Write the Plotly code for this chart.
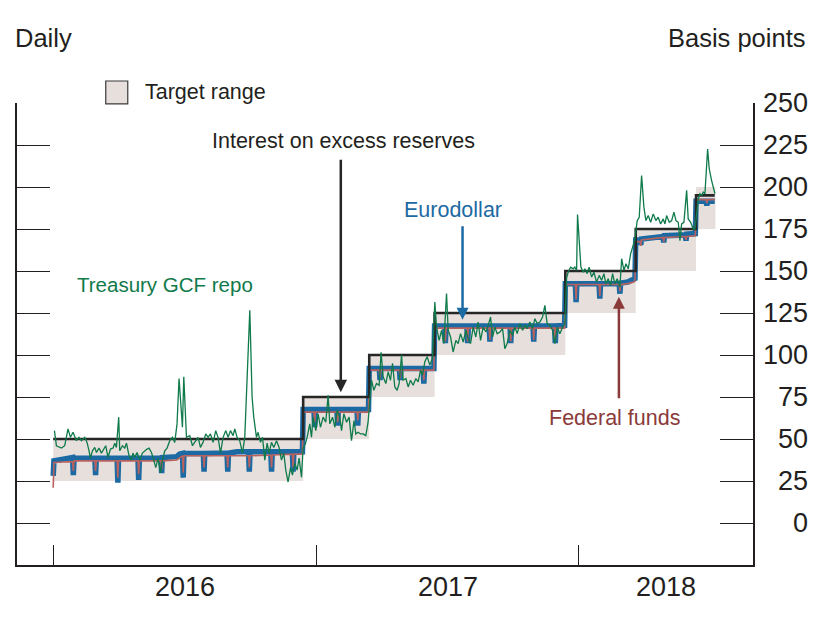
import pandas as pd
import plotly.graph_objects as go

BASE = pd.Timestamp("2016-01-01")

# ---- data (x values are days since 2016-01-01) ----
gcf_day = [1.7, 4.5, 11.4, 16, 20.6, 24, 27.6, 32.3, 35.9, 39.3, 43.9, 47.1, 49.9, 51.8, 54.6, 57.8, 60.2, 63.8, 67.1, 69.4,
           73.1, 76.3, 79.7, 83.3, 85.7, 88, 91.2, 92.6, 96.4, 99.6, 102, 105.6, 108.9, 111.1, 113.5, 116.7, 120.5, 124.2, 127.4, 130.6,
           133.4, 136.8, 140, 142.8, 146, 149.3, 152.1, 155.3, 158.5, 162.3, 166, 169.2, 172.4, 175.2, 179.9, 181.8, 185.5,
           190.1, 193.9, 197.1, 201.7, 205, 208.6, 212.4, 215.6, 218.9, 222.6, 226.3, 229.5, 232.9, 236.5, 240.3, 243.5, 246.8, 250.4, 252.8, 256,
           259.7, 263.5, 266.7, 269.1, 273.7, 276.9, 279.2, 283, 285.2, 288.6, 291.4, 294.6, 297.8, 300.6, 303.9, 307.1, 310.9, 314.5, 317.8, 321,
           323.8, 327, 330.4, 333.1, 336.4, 339.6, 342.3, 345.7, 347.9,
           351, 353.5, 357.2, 359.6, 361.8, 365.6, 368.8, 372.1, 375.8, 379.5, 382.7, 385.1, 388.9, 392.1, 395.3, 399, 401.4, 404.6, 408.4, 412,
           415.3, 418.8, 421.3, 424.5, 427.9, 431.5, 435.2, 438.4, 440.8, 443.2, 446.4, 450.1, 453.8, 456.5, 459.3, 463.1, 466.3, 469.6, 472.4, 475.6,
           478.8, 481.6, 485, 487.2, 491, 494.2, 497.5, 501.1, 504.9, 508.1, 511.4, 514.2, 517.4, 520.6, 524.4, 528.1,
           531.3, 533.7, 537.3, 540.7, 543.9, 547.6, 549.9, 553.2, 556.8, 560.6, 563.8, 567.1, 570.8, 574.5, 577.7, 581, 584.7, 588.4, 591.6, 595,
           598.6, 602.4, 605.6, 608.9, 611.7, 614.9, 618.1, 621.9, 625.6, 628.8, 632, 635.8, 639.6, 642.8, 646, 649.7, 653.5, 656.7, 659.9, 663.6,
           667.4, 670.6, 673.8, 677.6, 681.3, 684.5, 687.7, 691.5, 695.3, 698.5, 701.7, 705.4, 709.2, 712.4,
           714.8, 717, 720.3, 723.9, 726.3, 728.7, 730, 732.3, 734.7, 737.9, 740.3, 743.5, 746.2, 749.6, 752.8, 756.5, 760.2, 763.5, 766.7, 769.5,
           772.7, 776, 778.8, 782, 785.2, 789, 791.4, 794.6, 797.4, 800.6, 803.9, 806.7, 809.5,
           813.1, 815.9, 819.2, 822.4, 825.2, 828.4, 831.8, 835.4, 839.1, 842.3, 845.7, 849.3, 851.7, 854, 857.7, 861, 864.2, 867, 870.2, 872.6,
           874.9, 878.1, 881.9, 884.1, 887.5, 891.1, 893.5,
           898.1, 900.4, 902.8, 905, 907.4, 911.1, 913.4, 916.7, 918.9, 921.3]
gcf_val = [55, 46, 44.6, 46, 56, 51, 54, 49, 51, 49, 51, 48, 43, 38.6, 43, 45, 42, 44.6, 41.6, 43,
           46, 39, 44, 44.6, 47.5, 45, 63, 43, 46, 44.6, 47.5, 40, 37.4, 41.6, 39, 42, 37.4, 41.6, 43, 44,
           44.6, 42, 37.4, 33, 38.6, 30, 37.4, 43, 44.6, 49, 51, 48, 59, 86, 57, 87, 51,
           52, 46, 48, 51, 45, 48, 53, 51, 53, 48, 55, 51, 41.6, 51, 55, 51, 55, 52, 56, 51,
           49, 41.6, 51, 75, 126.6, 75, 63, 51, 54, 48, 51, 37.4, 47.5, 41.6, 48, 45, 49, 45, 37.4, 41.6,
           31.5, 24.4, 33, 28.5, 35.6, 31.5, 38.6, 27.3, 44.6,
           47, 51, 59, 51, 63, 55, 65, 57, 63, 60, 76, 59, 63, 57, 67, 63, 55, 65, 60, 63,
           49, 61, 53, 54, 53, 53, 52, 60, 73, 85, 79, 83, 82, 101.6, 87, 83, 90, 85, 95, 81,
           79, 83, 100, 85, 86, 81, 85, 82, 86, 84, 91, 88, 96, 99, 94, 98,
           131.5, 116.6, 108.7, 114.7, 106.8, 136.6, 114.7, 110.7, 101.8, 108.7, 106.8, 112.7, 107.7, 114.7, 109.7, 106.8, 116.6, 110.7, 119.6, 108.7,
           116.6, 113.7, 117.6, 122.6, 110.7, 116.6, 112.7, 113.7, 115.7, 103.8, 106.8, 114.7, 111.7, 116.6, 112.7, 118.7, 114.7, 117.6, 115.7, 119.6,
           115.7, 121.6, 118.7, 119.6, 122.6, 129.5, 118.7, 117.6, 114.7, 106.8, 116.6, 112.7, 116.6, 118.7,
           146, 149.3, 152.3, 151.3, 152.3, 150.3, 183.6, 168, 152.3, 149.3, 151.3, 148.4, 152.3, 146.4, 149.3, 143.4, 147.4, 144.4, 148.4, 142.4,
           145.4, 141.4, 148.4, 142.4, 145.4, 140.4, 157.3, 150.3, 154.3, 151.3, 160.2, 164.2, 168.1,
           180, 182, 206.8, 188, 180, 183, 179, 184, 180, 182, 178, 181, 178, 183, 179, 180, 185, 180, 179, 168,
           178, 179, 198, 181, 179, 175, 175,
           193, 196, 195, 197, 196, 222.6, 210.7, 203.8, 199.8, 196]

euro_day = [0, 1, 14, 27, 28, 29, 58, 59, 60, 89, 90, 91, 118, 119, 120, 150, 151, 152, 172, 176, 180, 181, 182,
            209, 210, 211, 242, 243, 244, 256, 272, 273, 274, 303, 304, 305, 333, 334, 335, 347,
            348, 363, 364, 365, 395, 396, 397, 423, 424, 425, 439,
            440, 454, 455, 456, 482, 483, 484, 515, 516, 517, 530,
            531, 545, 546, 547, 576, 577, 578, 607, 608, 609, 636, 637, 638, 668, 669, 670, 698, 699, 700, 712,
            713, 727, 728, 729, 760, 761, 762, 788, 789, 790, 800, 808, 810,
            811, 817, 818, 819, 849, 850, 851, 880, 881, 882, 894,
            895, 909, 910, 911, 921]
euro_val = [28, 37, 38, 39, 28.5, 38.5, 38.5, 28.5, 38.5, 38.6, 24, 38.6, 38.6, 25.6, 38.6, 38.6, 29.7, 39, 39.5, 41, 41.4, 27, 41.4,
            41.4, 30.5, 41.4, 41.6, 30.5, 41.6, 42.4, 42.4, 30.5, 42.4, 42.4, 30.5, 42.4, 42.4, 30.5, 42.4, 42.4,
            67.6, 67.6, 57, 67.6, 67.6, 58, 67.6, 67.6, 58, 67.6, 67.6,
            92, 92, 85, 92, 92, 85, 92, 92, 83, 92, 92,
            117.3, 117.3, 107, 117.3, 117.3, 107, 117.3, 117.3, 108, 117.3, 117.3, 107, 117.3, 117.3, 108, 117.3, 117.3, 107, 117.3, 117.6,
            142.4, 142.4, 131.5, 142.4, 142.4, 133.5, 142.4, 142.4, 136.5, 142.8, 143.4, 145, 145.5,
            168.5, 168.5, 165.5, 169, 170.5, 167, 171, 171.5, 168, 172, 172.3,
            191.5, 191.5, 189, 191.5, 191.5]

ff_day = euro_day
ff_val = [21, 36, 36.3, 36.5, 31, 37, 37, 31, 37, 37, 27, 37, 37, 29, 37, 37, 32, 37, 37.5, 39, 40, 30, 40,
          40, 33, 40, 40, 33, 40, 40, 40, 33, 40, 40.5, 33, 40.5, 41, 33, 41, 41,
          66, 66, 60, 66, 66, 60, 66, 66, 61, 66, 66,
          91, 91, 86, 91, 91, 86, 91, 91, 85, 91, 91,
          116, 116, 108, 116, 116, 108, 116, 116, 109, 116, 116, 108, 116, 116, 109, 116, 116, 108, 116, 116,
          142, 142, 133, 142, 142, 135, 142, 142, 138, 142, 142.5, 143.5, 144,
          167.5, 167.5, 165, 168.5, 170, 167.5, 170, 170.5, 168.5, 170.5, 171,
          192.5, 192.5, 190.5, 192.5, 192.5]

ioer_day = [0, 348, 440, 531, 713, 811, 895, 921]
ioer_val = [50, 75, 100, 125, 150, 175, 195, 195]

range_start = [0, 348, 440, 531, 713, 811, 895]
range_end = [348, 440, 531, 713, 811, 895, 922]
range_lo = [25, 50, 75, 100, 125, 150, 175]
range_hi = [50, 75, 100, 125, 150, 175, 200]

y_ticks = [0, 25, 50, 75, 100, 125, 150, 175, 200, 225, 250]
year_ticks = ["2016-01-01", "2017-01-01", "2018-01-01"]
year_labels = ["2016", "2017", "2018"]
year_label_pos = ["2016-07-02", "2017-07-03", "2018-05-03"]

assert len(gcf_day) == len(gcf_val)
assert len(euro_day) == len(euro_val) == len(ff_val)


def to_dates(days):
    return [BASE + pd.Timedelta(days=float(d)) for d in days]


FONT = "Liberation Sans Narrow, Arial Narrow, Liberation Sans, Arial, sans-serif"
TXT = "#231f20"
GREEN = "#0f7a4a"
BLUE = "#1c6aa3"
RED = "#b8625f"
RED_TXT = "#8b3a3a"
FILL = "#e6dfdc"

TICK_SIZE = 27
TITLE_SIZE = 25.5
ANN_SIZE = 21.5

fig = go.Figure()

shapes = []
for s, e, lo, hi in zip(range_start, range_end, range_lo, range_hi):
    shapes.append(dict(type="rect", xref="x", yref="y", x0=BASE + pd.Timedelta(days=s),
                       x1=BASE + pd.Timedelta(days=e), y0=lo, y1=hi,
                       fillcolor=FILL, line=dict(width=0), layer="below"))
# legend swatch
shapes.append(dict(type="rect", xref="paper", yref="paper", x0=0.1206, x1=0.1505, y0=0.998, y1=1.0476,
                   fillcolor=FILL, line=dict(color="#3a3a3a", width=1.2)))

fig.add_trace(go.Scatter(x=to_dates(euro_day), y=euro_val, mode="lines",
                         line=dict(color=BLUE, width=5.5), name="Eurodollar", hoverinfo="skip"))
fig.add_trace(go.Scatter(x=to_dates(ff_day), y=ff_val, mode="lines",
                         line=dict(color=RED, width=1.6), name="Federal funds", hoverinfo="skip"))
fig.add_trace(go.Scatter(x=to_dates(ioer_day), y=ioer_val, mode="lines", line_shape="hv",
                         line=dict(color="#262626", width=2.6), name="IOER", hoverinfo="skip"))
fig.add_trace(go.Scatter(x=to_dates(gcf_day), y=gcf_val, mode="lines",
                         line=dict(color=GREEN, width=1.3), name="Treasury GCF repo", hoverinfo="skip"))
# invisible trace on right axis
fig.add_trace(go.Scatter(x=to_dates([0]), y=[0], yaxis="y2", mode="lines",
                         line=dict(width=0), showlegend=False, hoverinfo="skip"))

ann = []
ann.append(dict(text="Daily", xref="paper", yref="paper", x=-0.005, y=1.1407, xanchor="left",
                yanchor="middle", showarrow=False, font=dict(size=TITLE_SIZE, color=TXT, family=FONT)))
ann.append(dict(text="Basis points", xref="paper", yref="paper", x=1.0752, y=1.1407, xanchor="right",
                yanchor="middle", showarrow=False, font=dict(size=TITLE_SIZE, color=TXT, family=FONT)))
ann.append(dict(text="Target range", xref="paper", yref="paper", x=0.171, y=1.0238, xanchor="left",
                yanchor="middle", showarrow=False, font=dict(size=ANN_SIZE, color=TXT, family=FONT)))
ann.append(dict(text="Interest on excess reserves", xref="paper", yref="paper", x=0.4442, y=0.9177,
                xanchor="center", yanchor="middle", showarrow=False, font=dict(size=ANN_SIZE, color=TXT, family=FONT)))
ann.append(dict(text="Eurodollar", xref="paper", yref="paper", x=0.5925, y=0.7684,
                xanchor="center", yanchor="middle", showarrow=False, font=dict(size=ANN_SIZE, color=BLUE, family=FONT)))
ann.append(dict(text="Treasury GCF repo", xref="paper", yref="paper", x=0.2008, y=0.6061,
                xanchor="center", yanchor="middle", showarrow=False, font=dict(size=20.5, color=GREEN, family=FONT)))
ann.append(dict(text="Federal funds", xref="paper", yref="paper", x=0.812, y=0.3182,
                xanchor="center", yanchor="middle", showarrow=False, font=dict(size=ANN_SIZE, color=RED_TXT, family=FONT)))
# arrows
ann.append(dict(x=BASE + pd.Timedelta(days=400.4), y=77.9, xref="x", yref="y", ax=0, ay=-234, text="",
                showarrow=True, arrowhead=2, arrowsize=1.0, arrowwidth=2.5, arrowcolor="#262626"))
ann.append(dict(x=BASE + pd.Timedelta(days=569.9), y=121, xref="x", yref="y", ax=0, ay=-95, text="",
                showarrow=True, arrowhead=2, arrowsize=0.95, arrowwidth=2.5, arrowcolor=BLUE))
ann.append(dict(x=BASE + pd.Timedelta(days=787.6), y=134.6, xref="x", yref="y", ax=0, ay=103, text="",
                showarrow=True, arrowhead=2, arrowsize=0.95, arrowwidth=2.5, arrowcolor=RED_TXT))
# right axis labels
for v in y_ticks:
    ann.append(dict(text=str(v), xref="paper", yref="y", x=1.0776, y=v, xanchor="right", yanchor="middle",
                    showarrow=False, font=dict(size=TICK_SIZE, color=TXT, family=FONT)))
# year labels
for pos, lab in zip(year_label_pos, year_labels):
    ann.append(dict(text=lab, xref="x", yref="paper", x=pos, y=-0.0476, xanchor="center", yanchor="middle",
                    showarrow=False, font=dict(size=TICK_SIZE, color=TXT, family=FONT)))

fig.update_layout(
    width=831, height=621,
    margin=dict(l=17, r=78, t=103, b=56),
    paper_bgcolor="white", plot_bgcolor="white",
    showlegend=False,
    shapes=shapes, annotations=ann,
    xaxis=dict(type="date", range=["2015-11-11 14:00", "2018-09-01 07:00"], showgrid=False, zeroline=False,
               showline=True, linecolor=TXT, linewidth=2, ticks="inside", ticklen=20, tickwidth=1.3,
               tickcolor=TXT, tickvals=year_ticks, showticklabels=False),
    yaxis=dict(range=[-25, 250], showgrid=False, zeroline=False, showline=True, linecolor=TXT, linewidth=2,
               ticks="inside", ticklen=33, tickwidth=1.3, tickcolor=TXT, tickvals=y_ticks, showticklabels=False),
    yaxis2=dict(range=[-25, 250], overlaying="y", side="right", showgrid=False, zeroline=False, showline=True,
                linecolor=TXT, linewidth=2, ticks="inside", ticklen=33, tickwidth=1.3, tickcolor=TXT,
                tickvals=y_ticks, showticklabels=False),
)

fig.write_html("out.html")
